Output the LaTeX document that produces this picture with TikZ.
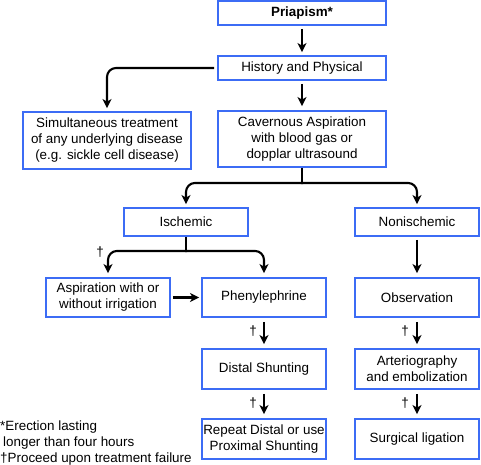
\documentclass[tikz,border=0pt]{standalone}
\usepackage{fontspec}
\setmainfont{Liberation Sans}
\usetikzlibrary{arrows.meta}
\definecolor{boxblue}{RGB}{60,108,245}
\begin{document}
\begin{tikzpicture}[x=1pt,y=-1pt,
  box/.style={draw=boxblue,line width=1.9pt,rectangle,align=center,inner sep=0pt,
     font=\fontsize{13.4}{16}\selectfont},
  wide/.style={box,minimum width=168pt},
  narrow/.style={box,minimum width=124pt},
  link/.style={line width=2.1pt,black},
  arr/.style={link,-{Stealth[length=9pt,width=9pt,inset=2.5pt]}},
  dag/.style={font=\fontsize{13.4}{16}\selectfont,inner sep=0pt}]
\useasboundingbox (0,0) rectangle (481,464);
\node[wide,minimum height=24pt] (pri) at (302,13) {\textbf{Priapism*}};
\node[wide,minimum height=24pt] (hist) at (302,68) {History and Physical};
\node[wide,minimum height=56pt] (cav) at (302,139) {Cavernous Aspiration\\with blood gas or\\dopplar ultrasound};
\node[wide,minimum height=57pt] (sim) at (107,140.5) {Simultaneous treatment\\of any underlying disease\\(e.g. sickle cell disease)};
\node[narrow,minimum height=28pt] (isch) at (186,222) {Ischemic};
\node[narrow,minimum height=28pt] (non) at (417,222) {Nonischemic};
\node[narrow,minimum height=39pt] (asp) at (108,297.5) {Aspiration with or\\without irrigation};
\node[narrow,minimum height=39pt] (phen) at (264,297.5) {Phenylephrine};
\node[narrow,minimum height=39pt] (obs) at (417,297.5) {Observation};
\node[narrow,minimum height=40pt] (dist) at (264,369) {Distal Shunting};
\node[narrow,minimum height=40pt] (art) at (417,369) {Arteriography\\and embolization};
\node[narrow,minimum height=40pt] (rep) at (264,439) {Repeat Distal or use\\Proximal Shunting};
\node[narrow,minimum height=40pt] (surg) at (417,439) {Surgical ligation};

\draw[arr] ([yshift=-3pt]pri.south) -- ([yshift=3pt]hist.north);
\draw[arr] ([yshift=-3pt]hist.south) -- ([yshift=4pt]cav.north);
\draw[arr,rounded corners=9pt] ([xshift=-3pt]hist.west) -| ([yshift=3pt]sim.north);

\draw[link] (cav.south) -- ++(0,15) coordinate (s1);
\draw[arr,rounded corners=9pt] ([xshift=1pt]s1) -| ([yshift=3pt]isch.north);
\draw[arr,rounded corners=9pt] ([xshift=-1pt]s1) -| ([yshift=3pt]non.north);
\draw[arr] ([yshift=-3pt]non.south) -- ([yshift=4pt]obs.north);

\draw[link] (isch.south) -- ++(0,14) coordinate (s2);
\draw[arr,rounded corners=9pt] ([xshift=1pt]s2) -| ([yshift=4pt]asp.north);
\draw[arr,rounded corners=9pt] ([xshift=-1pt]s2) -| ([yshift=4pt]phen.north);
\node[dag] (d1) at (100,252) {†};

\draw[arr] ([xshift=2pt]asp.east) -- ([xshift=-2pt]phen.east -| phen.west);

\draw[arr] ([yshift=-4pt]phen.south) -- ([yshift=4pt]dist.north);
\draw[arr] ([yshift=-4pt]dist.south) -- ([yshift=4pt]rep.north);
\draw[arr] ([yshift=-4pt]obs.south) -- ([yshift=4pt]art.north);
\draw[arr] ([yshift=-4pt]art.south) -- ([yshift=4pt]surg.north);
\node[dag] (d2) at (253,331) {†};
\node[dag] (d3) at (253,403) {†};
\node[dag] (d4) at (405,331) {†};
\node[dag] (d5) at (405,403) {†};

\node[anchor=north west,align=left,inner sep=0pt,font=\fontsize{13.4}{16}\selectfont] (foot) at (0,420.5)
  {*Erection lasting\\\hspace*{3pt}longer than four hours\\†Proceed upon treatment failure};
\end{tikzpicture}
\end{document}
